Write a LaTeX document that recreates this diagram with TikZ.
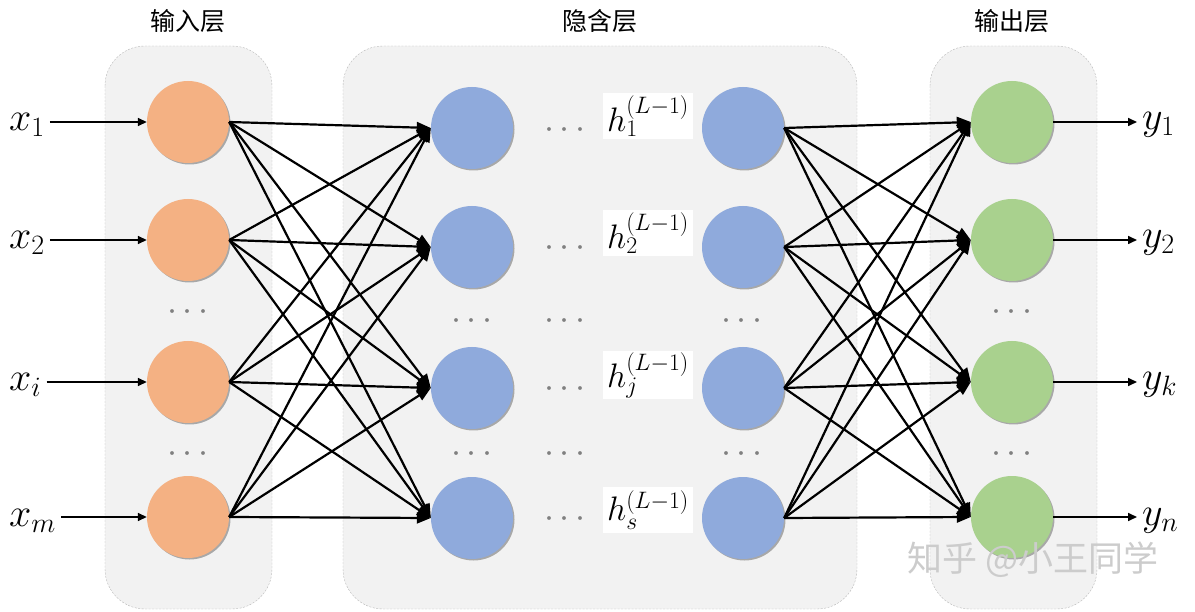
\RequirePackage{fix-cm}
\documentclass[tikz,border=0pt]{standalone}
\usepackage{fontspec}
\newfontfamily\cjk{Noto Sans CJK SC}
\usetikzlibrary{arrows.meta,shadows}
\definecolor{inorange}{HTML}{F4B183}
\definecolor{hidblue}{HTML}{8FAADC}
\definecolor{outgreen}{HTML}{A9D18E}
\definecolor{layergray}{HTML}{F2F2F2}
\begin{document}
\begin{tikzpicture}[x=1pt,y=-1pt,
	neuron/.style={circle,minimum size=82pt,inner sep=0pt,drop shadow={shadow xshift=1.5pt,shadow yshift=-1.5pt,opacity=0.3,fill=black}},
	layer/.style={fill=layergray,draw=gray!55,dash pattern=on 2pt off 1.5pt,line width=0.4pt,rounded corners=40pt},
	title/.style={font=\cjk\fontsize{25}{25}\selectfont},
	varlab/.style={anchor=base west,inner sep=5pt,font=\fontsize{40}{40}\selectfont},
	hlab/.style={fill=white,minimum width=90pt,minimum height=46pt,inner sep=1pt,font=\fontsize{34}{34}\selectfont},
	dotsgray/.style={text=gray,inner sep=0pt,font=\fontsize{36}{36}\selectfont},
	conn/.style={-{Triangle[length=14pt,width=11pt]},line width=2.2pt},
	feed/.style={-{Triangle[length=9pt,width=8pt]},line width=1.6pt}]
	\useasboundingbox (0,0) rectangle (1195,612);
	% layer backgrounds
	\draw[layer] (105,46) rectangle (272,609);
	\draw[layer] (343,46) rectangle (857,609);
	\draw[layer] (930,46) rectangle (1097,609);
	\node[title] (tin) at (188,21) {输入层};
	\node[title] (thid) at (600,21) {隐含层};
	\node[title] (tout) at (1012,21) {输出层};
	% neurons
	\foreach \y [count=\i] in {122,240,382,517}
		\node[neuron,fill=inorange] (in\i) at (188,\y) {};
	\foreach \y [count=\i] in {128,247,388,518} {
		\node[neuron,fill=hidblue] (ha\i) at (472,\y) {};
		\node[neuron,fill=hidblue] (hb\i) at (743,\y) {};
	}
	\foreach \y [count=\i] in {122,240,382,517}
		\node[neuron,fill=outgreen] (out\i) at (1012,\y) {};
	% dots
	\foreach \y in {313,454} {
		\node[dotsgray] at (188,\y) {$\cdots$};
		\node[dotsgray] at (1012,\y) {$\cdots$};
	}
	\foreach \y in {322,454} {
		\node[dotsgray] at (472,\y) {$\cdots$};
		\node[dotsgray] at (565,\y) {$\cdots$};
		\node[dotsgray] at (742,\y) {$\cdots$};
	}
	\foreach \y in {131,249,390,519}
		\node[dotsgray] at (565,\y) {$\cdots$};
	% hidden labels
	\node[hlab] (h1) at (648,116) {$h_1^{(L-1)}$};
	\node[hlab] (h2) at (648,233) {$h_2^{(L-1)}$};
	\node[hlab] (h3) at (648,375) {$h_j^{(L-1)}$};
	\node[hlab] (h4) at (648,510) {$h_s^{(L-1)}$};
	% inputs and outputs
	\node[varlab] (x1) at (4,131) {$x_1$};
	\node[varlab] (x2) at (4,249) {$x_2$};
	\node[varlab] (x3) at (4,391) {$x_i$};
	\node[varlab] (x4) at (4,526) {$x_m$};
	\node[varlab] (y1) at (1137,130) {$y_1$};
	\node[varlab] (y2) at (1137,248) {$y_2$};
	\node[varlab] (y3) at (1137,390) {$y_k$};
	\node[varlab] (y4) at (1137,525) {$y_n$};
	\foreach \i in {1,...,4} {
		\draw[feed] (x\i.east |- in\i) -- (in\i.west);
		\draw[feed] (out\i.east) -- (y\i.west |- out\i);
	}
	% connections
	\foreach \i in {1,...,4}
		\foreach \j in {1,...,4} {
			\draw[conn] (in\i.east) -- (ha\j.west);
			\draw[conn] (hb\i.east) -- (out\j.west);
		}
	\node[text=gray!40,font=\cjk\fontsize{35}{35}\selectfont] (mark) at (1033,560) {知乎 @小王同学};
\end{tikzpicture}
\end{document}
